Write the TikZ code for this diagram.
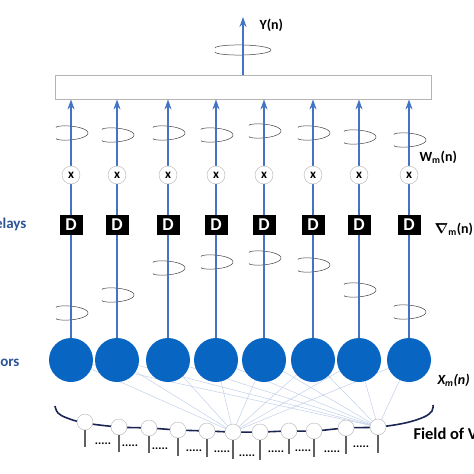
\documentclass[tikz,border=0pt]{standalone}
\usepackage{amsmath}
\usepackage{fontspec}
\setmainfont{Carlito}
\usetikzlibrary{arrows.meta, positioning, backgrounds, calc}
\definecolor{linkblue}{HTML}{4472C4}
\definecolor{sensorblue}{HTML}{0866C2}
\definecolor{labelblue}{HTML}{2F5597}
\definecolor{arcnavy}{HTML}{1B2552}
\definecolor{boxgray}{HTML}{B4B4B4}
\definecolor{wireblue}{HTML}{C2D0E8}
\tikzset{
  sensor/.style={circle, fill=sensorblue, minimum size=44pt, inner sep=0pt},
  multnode/.style={circle, draw=boxgray, fill=white, minimum size=18pt,
                   inner sep=0pt, font=\bfseries\fontsize{13}{13}\selectfont},
  delaybox/.style={fill=black, text=white, minimum width=23pt, minimum height=20pt,
                   inner sep=0pt, font=\bfseries\fontsize{18}{18}\selectfont},
  fieldpt/.style={circle, draw=boxgray, fill=white, minimum size=16pt, inner sep=0pt},
  sumbox/.style={draw=boxgray, fill=white, line width=0.8pt,
                 minimum width=376pt, minimum height=24pt, inner sep=0pt},
  blarr/.style={-{Stealth[length=10pt,width=7pt]}, line width=1.6pt, linkblue},
  wire/.style={wireblue, line width=0.5pt},
  stem/.style={gray!75!black, line width=1.3pt},
  helix/.style={black!75, line width=0.5pt},
  dotlab/.style={font=\bfseries\fontsize{12}{12}\selectfont, inner sep=0pt},
  sidelab/.style={font=\bfseries\fontsize{15}{15}\selectfont, labelblue, anchor=east},
  varlab/.style={font=\bfseries\fontsize{14}{14}\selectfont, anchor=west},
}

\begin{document}
\begin{tikzpicture}[x=1pt, y=-1pt]
  \useasboundingbox (0,0) rectangle (474,474);
  \clip (0,0) rectangle (474,474);

  %% summing box and output
  \node[sumbox] (sum) at (243,87) {};
  \coordinate (ytip) at (243,17);
  \draw[helix] plot[domain=0:360, samples=60, variable=\t]
    ({243-28*cos(\t)}, {50+4*sin(\t)+2-4*\t/360});
  \draw[blarr] (sum.north) -- (ytip);
  \node[varlab] (ylab) at (256,25) {Y(n)};

  %% sensors, weights and delays
  \foreach \i/\x in {1/71,2/117,3/168,4/216,5/264,6/313,7/359,8/409} {
    \node[sensor] (s\i) at (\x,360) {};
  }

  %% field of view
  \foreach \j/\x/\y in {1/85/422,2/119/427,3/149/428,4/178/430,5/207/431,6/233/432,
                        7/260/432,8/289/431,9/314/431,10/346/428,11/378/427} {
    \node[fieldpt] (f\j) at (\x,\y) {};
  }

  \begin{scope}[on background layer]
    \foreach \i in {1,...,8} {
      \draw[wire] (s\i.center) -- (f6.center);
      \draw[wire] (s\i.center) -- (f11.center);
    }
    \draw[arcnavy, line width=1.6pt] plot[smooth, tension=0.6] coordinates {
      (55,406) (58,413) (67,418) (85,423) (119,427) (149,428) (178,430) (207,431)
      (233,432) (260,432) (289,431) (314,431) (346,428) (378,427) (405,423)
      (424,417) (432,411) (433,405)};

    %% wave marks on the lines
    \foreach \x/\ya/\yb in {71/133/313, 117/135/295, 168/133/268, 216/135/262,
                            264/131/258, 313/133/265, 359/137/290, 409/140/312} {
      \draw[helix] plot[domain=0:360, samples=50, variable=\t]
        ({\x+1-16*cos(\t)}, {\ya+4*sin(\t)+5.5-11*\t/360});
      \draw[helix] plot[domain=0:360, samples=50, variable=\t]
        ({\x+1-16*cos(\t)}, {\yb+4*sin(\t)+5.5-11*\t/360});
    }

    \foreach \i in {1,...,8} {
      \draw[blarr] (s\i.north) -- (s\i.north |- sum.south);
    }
  \end{scope}

  \foreach \i/\x in {1/71,2/117,3/168,4/216,5/264,6/313,7/359,8/409} {
    \node[multnode] (m\i) at (\x,175) {x};
    \node[delaybox] (d\i) at (\x,225) {D};
  }

  %% stems under the field points
  \foreach \j/\len in {1/17,2/17,3/17,4/18,5/18,6/19,7/20,8/15,9/18,10/18,11/18} {
    \draw[stem] (f\j.south) -- ++(0,\len);
  }
  \foreach \k/\x/\y in {1/103/444,2/130/446,3/160/449,4/194/451,5/222/452,
                        6/247/456,7/276/452,8/303/451,9/332/452,10/361/447} {
    \node[dotlab] (dt\k) at (\x,\y) {.....};
  }

  %% labels
  \node[varlab] (wlab) at (416,157) {W\textsubscript{m}(n)};
  \node[varlab] (nlab) at (431,229) {$\boldsymbol{\nabla}$\textsubscript{m}(n)};
  \node[varlab, font=\bfseries\itshape\fontsize{14}{14}\selectfont]
    (xlab) at (434,380) {X\textsubscript{m}(n)};
  \node[sidelab] (dlab) at (30,224) {Delays};
  \node[sidelab] (slab) at (23,362) {Sensors};
  \node[font=\bfseries\fontsize{16.5}{16.5}\selectfont, anchor=west]
    (flab) at (410,434) {Field of View};

\end{tikzpicture}
\end{document}
